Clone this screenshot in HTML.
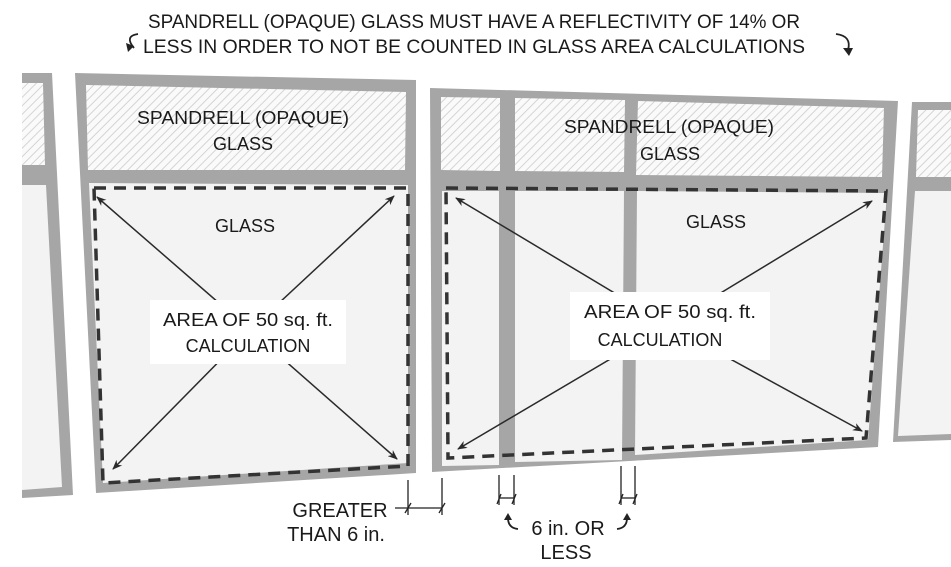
<!DOCTYPE html>
<html><head><meta charset="utf-8"><style>
html,body{margin:0;padding:0;background:#fff;}
svg{display:block;}
text{font-family:"Liberation Sans",sans-serif;fill:#1a1a1a;}
</style></head><body>
<svg width="951" height="567" viewBox="0 0 951 567" xmlns="http://www.w3.org/2000/svg">
<defs>
<pattern id="h" width="6" height="6" patternUnits="userSpaceOnUse" patternTransform="rotate(45)">
<rect width="6" height="6" fill="#fafafa"/><line x1="0" y1="0" x2="0" y2="6" stroke="#d4d4d4" stroke-width="2"/>
</pattern>
<marker id="a" markerWidth="10" markerHeight="8" refX="9" refY="4" orient="auto" markerUnits="userSpaceOnUse">
<path d="M0,0 L10,4 L0,8 L3,4 Z" fill="#2a2a2a"/></marker>
</defs>
<text x="474" y="28" font-size="19" text-anchor="middle" textLength="652" lengthAdjust="spacingAndGlyphs">SPANDRELL (OPAQUE) GLASS MUST HAVE A REFLECTIVITY OF 14% OR</text>
<text x="474" y="53" font-size="19" text-anchor="middle" textLength="662" lengthAdjust="spacingAndGlyphs">LESS IN ORDER TO NOT BE COUNTED IN GLASS AREA CALCULATIONS</text>
<path d="M134,48 Q124,36 138,34" fill="none" stroke="#222" stroke-width="1.8"/><path d="M128,52 L126,43 L134,46Z" fill="#222"/>
<path d="M836,34 Q852,36 848,50" fill="none" stroke="#222" stroke-width="1.8"/><path d="M849,56 L843,48 L853,48Z" fill="#222"/>

<!-- left partial -->
<polygon points="22,73 52,73 73,495 22,498" fill="#a6a6a6"/>
<polygon points="22,83 43,83 45,165 22,165" fill="url(#h)"/>
<polygon points="22,185 46,185 62,487 22,490" fill="#f3f3f3"/>

<!-- left panel -->
<polygon points="75,73 416,80 416,473 96,493" fill="#a6a6a6"/>
<polygon points="86,85 406,92 405,170 88,170" fill="url(#h)"/>
<polygon points="89,183 408,185 408,463 103,483" fill="#f3f3f3"/>
<polyline points="94,188 408,188 408,466 103,483 94,188" fill="none" stroke="#333" stroke-width="3.5" stroke-dasharray="12,8"/>
<text x="243" y="124" font-size="18" text-anchor="middle" textLength="212" lengthAdjust="spacingAndGlyphs">SPANDRELL (OPAQUE)</text>
<text x="243" y="150" font-size="18" text-anchor="middle">GLASS</text>
<text x="245" y="232" font-size="18" text-anchor="middle">GLASS</text>
<g stroke="#2a2a2a" stroke-width="1.5" marker-end="url(#a)">
<line x1="250" y1="330" x2="97" y2="197"/><line x1="250" y1="330" x2="394" y2="196"/>
<line x1="250" y1="330" x2="113" y2="469"/><line x1="250" y1="330" x2="397" y2="459"/>
</g>
<rect x="150" y="300" width="196" height="64" fill="#fff"/>
<text x="248" y="326" font-size="18" text-anchor="middle" textLength="170" lengthAdjust="spacingAndGlyphs">AREA OF 50 sq. ft.</text>
<text x="248" y="352" font-size="18" text-anchor="middle">CALCULATION</text>

<!-- middle panel -->
<polygon points="430,88 898,101 878,447 432,472" fill="#a6a6a6"/>
<polygon points="441,97 500,98 500,171 441,170" fill="url(#h)"/>
<polygon points="515,98 625,100 624,172 515,171" fill="url(#h)"/>
<polygon points="638,101 884,108 882,177 636,175" fill="url(#h)"/>
<polygon points="442,191 499,191 499,465 442,466" fill="#f3f3f3"/>
<polygon points="515,191 624,191 622,460 515,462" fill="#f3f3f3"/>
<polygon points="637,191 887,193 868,440 635,455" fill="#f3f3f3"/>
<polyline points="446,188 886,191 866,438 448,458 446,188" fill="none" stroke="#333" stroke-width="3.5" stroke-dasharray="12,8"/>
<text x="669" y="133" font-size="18" text-anchor="middle" textLength="210" lengthAdjust="spacingAndGlyphs">SPANDRELL (OPAQUE)</text>
<text x="670" y="160" font-size="18" text-anchor="middle">GLASS</text>
<text x="716" y="228" font-size="18" text-anchor="middle">GLASS</text>
<g stroke="#2a2a2a" stroke-width="1.5" marker-end="url(#a)">
<line x1="668" y1="325" x2="456" y2="198"/><line x1="668" y1="325" x2="872" y2="201"/>
<line x1="668" y1="325" x2="458" y2="449"/><line x1="668" y1="325" x2="862" y2="431"/>
</g>
<rect x="570" y="292" width="200" height="68" fill="#fff"/>
<text x="670" y="318" font-size="18" text-anchor="middle" textLength="172" lengthAdjust="spacingAndGlyphs">AREA OF 50 sq. ft.</text>
<text x="660" y="346" font-size="18" text-anchor="middle">CALCULATION</text>

<!-- right partial -->
<polygon points="912,102 951,102 951,440 893,442" fill="#a6a6a6"/>
<polygon points="918,110 951,110 951,177 916,177" fill="url(#h)"/>
<polygon points="915,191 951,191 951,434 898,436" fill="#f3f3f3"/>

<!-- dimensions -->
<g stroke="#222" stroke-width="1.3" fill="none">
<line x1="408" y1="480" x2="408" y2="515"/><line x1="442" y1="478" x2="442" y2="515"/>
<line x1="395" y1="508" x2="442" y2="508"/>
<line x1="405" y1="513" x2="411" y2="503"/><line x1="439" y1="513" x2="445" y2="503"/>
<line x1="499" y1="475" x2="499" y2="505"/><line x1="514" y1="475" x2="514" y2="505"/>
<line x1="499" y1="498" x2="514" y2="498"/>
<line x1="497" y1="504" x2="501" y2="494"/><line x1="512" y1="504" x2="516" y2="494"/>
<line x1="621" y1="466" x2="621" y2="505"/><line x1="635" y1="466" x2="635" y2="505"/>
<line x1="621" y1="498" x2="635" y2="498"/>
<line x1="619" y1="504" x2="623" y2="494"/><line x1="633" y1="504" x2="637" y2="494"/>
<path d="M518,529 Q508,528 508,518" stroke-width="1.8"/>
<path d="M617,529 Q627,528 627,518" stroke-width="1.8"/>
</g>
<path d="M504,520 L508,513 L512,520Z" fill="#222"/><path d="M623,520 L627,513 L631,520Z" fill="#222"/>
<text x="340" y="517" font-size="20" text-anchor="middle">GREATER</text>
<text x="336" y="541" font-size="20" text-anchor="middle">THAN 6 in.</text>
<text x="568" y="535" font-size="20" text-anchor="middle">6 in. OR</text>
<text x="566" y="559" font-size="20" text-anchor="middle">LESS</text>
</svg>
</body></html>
